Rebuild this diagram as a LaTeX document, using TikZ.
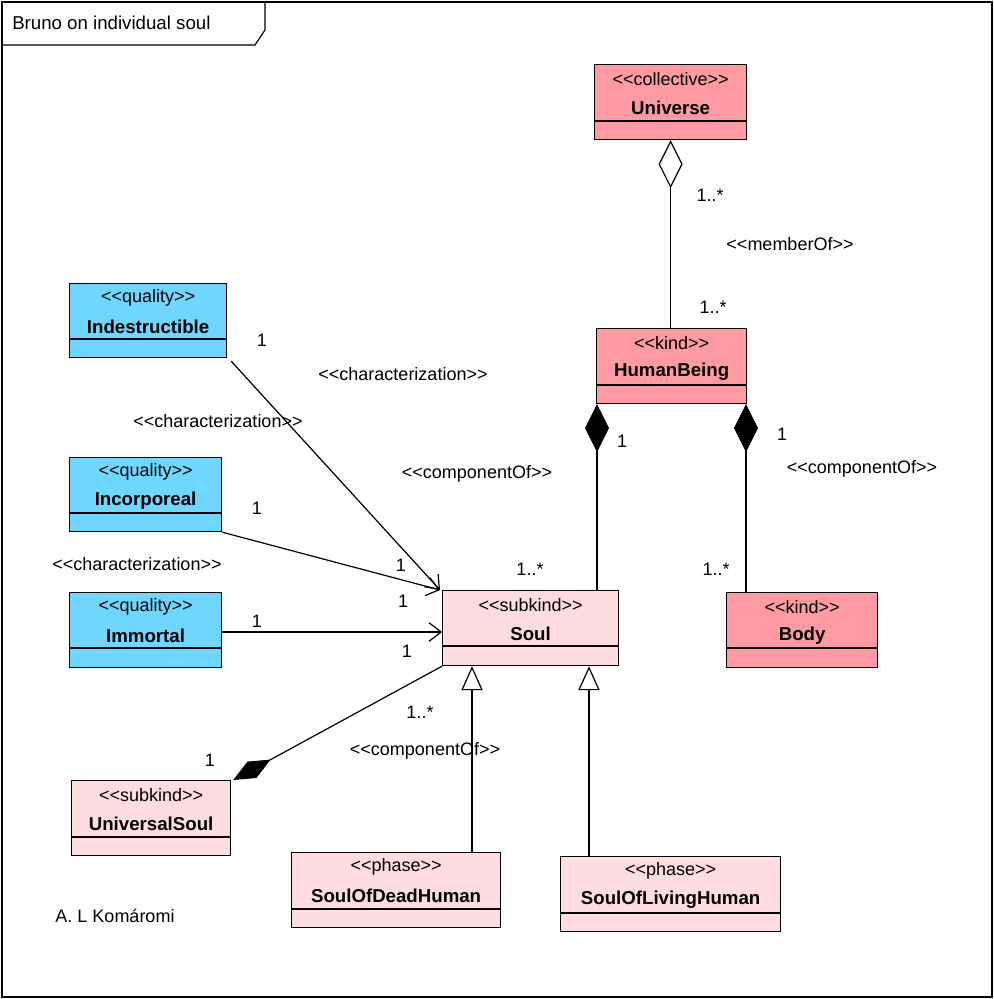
\documentclass[tikz,border=0pt]{standalone}
\usepackage{fontspec}
\setmainfont{Liberation Sans}[Ligatures=TeXOff]
\usetikzlibrary{arrows.meta,calc}
\definecolor{kindc}{HTML}{FF9AA2}
\definecolor{subc}{HTML}{FFDCE0}
\definecolor{qualc}{HTML}{6FD6FF}
\newcommand{\umlbox}[9]{%
  \node[draw,fill=#7,line width=0.9pt,anchor=north west,inner sep=0pt,
    minimum width={(#4-#2)*0.75pt},minimum height={(#5-#3)*0.75pt}] (#1) at (#2,#3) {};
  \draw[line width=0.9pt] (#2,#6) -- (#4,#6);
  \node[inner sep=0pt,font=\fontsize{13.5}{15}\selectfont] at ($(#1.north)+(0,15)$) {<<#8>>};
  \node[inner sep=0pt,font=\fontsize{14}{16}\selectfont\bfseries] at ($(#1.north)+(0,44)$) {#9};
}
\begin{document}
\begin{tikzpicture}[x=0.75pt,y=-0.75pt,
  lbl/.style={font=\fontsize{13.5}{15}\selectfont,inner sep=0pt},
  con/.style={line width=0.9pt},
  charz/.style={con,-{Straight Barb[length=9pt,width=14pt]}}]
\useasboundingbox (0,0) rectangle (994,999);
\draw[line width=0.9pt] (2,2) rectangle (992,997);
\draw[line width=0.9pt] (2,45) -- (255,45) -- (265,30) -- (265,2);
\node[anchor=west,inner sep=0pt,font=\fontsize{14}{16}\selectfont] (title) at (12,23) {Bruno on individual soul};

\umlbox{uni}{594}{64}{746}{139}{121}{kindc}{collective}{Universe}
\umlbox{hb}{596}{328}{746}{403}{385}{kindc}{kind}{HumanBeing}
\umlbox{ind}{69}{283}{226}{357}{339}{qualc}{quality}{Indestructible}
\umlbox{inc}{69}{457}{221}{531}{513}{qualc}{quality}{Incorporeal}
\umlbox{imm}{69}{592}{221}{667}{648}{qualc}{quality}{Immortal}
\umlbox{soul}{442}{590}{618}{665}{646}{subc}{subkind}{Soul}
\umlbox{body}{726}{592}{877}{667}{648}{kindc}{kind}{Body}
\umlbox{us}{71}{780}{230}{855}{837}{subc}{subkind}{UniversalSoul}
\umlbox{sdh}{291}{852}{500}{927}{909}{subc}{phase}{SoulOfDeadHuman}
\umlbox{slh}{560}{856}{780}{931}{913}{subc}{phase}{SoulOfLivingHuman}

% memberOf
\draw[con,{Diamond[open,fill=white,length=36pt,width=18pt]}-] (uni.south) -- (hb.north -| uni.south);
\node[lbl] at (710,195) {1..*};
\node[lbl] at (790,244) {<<memberOf>>};
\node[lbl] at (713,307) {1..*};
% componentOf HB-Soul
\draw[con,{Diamond[length=36pt,width=18pt]}-] (hb.south -| 597,0) -- (soul.north -| 597,0);
\node[lbl] at (622,441) {1};
\node[lbl] at (477,474) {<<componentOf>>};
\node[lbl] at (530,569) {1..*};
% componentOf HB-Body
\draw[con,{Diamond[length=36pt,width=18pt]}-] (hb.south -| 746,0) -- (body.north -| 746,0);
\node[lbl] at (782,434) {1};
\node[lbl] at (862,469) {<<componentOf>>};
\node[lbl] at (716,569) {1..*};
% characterizations
\draw[charz] (ind.south east) ++(4,3) -- (440,590);
\node[lbl] at (262,340) {1};
\node[lbl] at (403,374) {<<characterization>>};
\node[lbl] at (218,421) {<<characterization>>};
\node[lbl] at (401,565) {1};
\draw[charz] (inc.south east) -- (440,590);
\node[lbl] at (257,508) {1};
\node[lbl] at (403,601) {1};
\node[lbl] at (137,564) {<<characterization>>};
\draw[charz] (imm.east |- 0,632) -- (soul.west |- 0,632);
\node[lbl] at (257,621) {1};
\node[lbl] at (407,651) {1};
% Soul - UniversalSoul
\draw[con,{Diamond[length=32pt,width=14pt]}-] (us.north east) ++(2,0) -- (soul.south west);
\node[lbl] at (210,760) {1};
\node[lbl] at (420,712) {1..*};
\node[lbl] at (425,751) {<<componentOf>>};
% generalizations
\draw[con,-{Triangle[open,fill=white,length=18pt,width=16pt]}] (sdh.north -| 472,0) -- (soul.south -| 472,0);
\draw[con,-{Triangle[open,fill=white,length=18pt,width=16pt]}] (slh.north -| 589,0) -- (soul.south -| 589,0);

\node[lbl] (auth) at (115,916) {A. L Komáromi};
\end{tikzpicture}
\end{document}
